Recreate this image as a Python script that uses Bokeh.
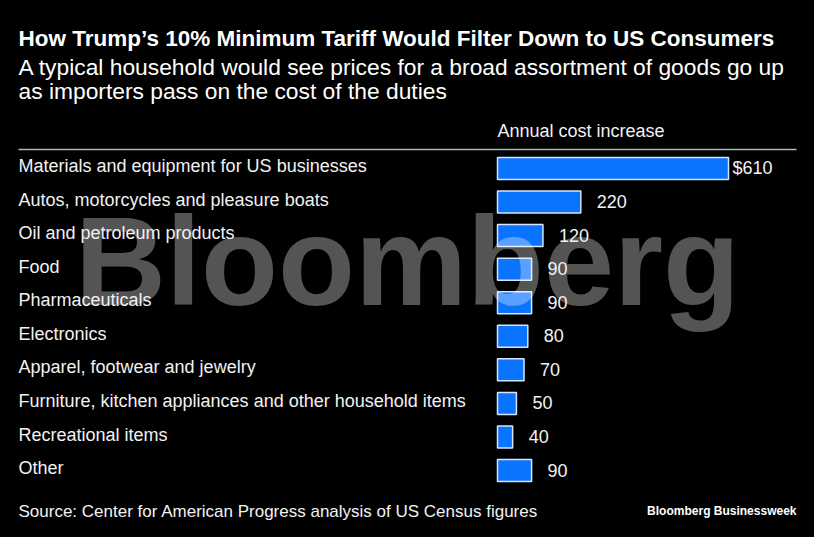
from bokeh.plotting import figure
from bokeh.models import Range1d, ColumnDataSource
from bokeh.core.properties import value
from bokeh.embed import file_html
from bokeh.resources import INLINE

# ---------------- data ----------------
categories = [
    "Materials and equipment for US businesses",
    "Autos, motorcycles and pleasure boats",
    "Oil and petroleum products",
    "Food",
    "Pharmaceuticals",
    "Electronics",
    "Apparel, footwear and jewelry",
    "Furniture, kitchen appliances and other household items",
    "Recreational items",
    "Other",
]
values = [610, 220, 120, 90, 90, 80, 70, 50, 40, 90]
value_labels = ["$610", "220", "120", "90", "90", "80", "70", "50", "40", "90"]

title = "How Trump\u2019s 10% Minimum Tariff Would Filter Down to US Consumers"
subtitle_lines = [
    "A typical household would see prices for a broad assortment of goods go up",
    "as importers pass on the cost of the duties",
]
header = "Annual cost increase"
source_note = "Source: Center for American Progress analysis of US Census figures"
brand = "Bloomberg Businessweek"
watermark = "Bloomberg"

# ---------------- layout ----------------
W, H = 814, 537
X0_PX = 497
PX_PER_UNIT = 231 / 610
ROW0_PX = 168
ROW_STEP_PX = 33.56
BASE_SHIFT = 0.36  # empirical baseline correction (fraction of font size)

def xd(px):
    return (px - X0_PX) / PX_PER_UNIT

def yd(py, size=0.0):
    return (py - BASE_SHIFT * size - ROW0_PX) / ROW_STEP_PX

FONT = value("Liberation Sans")
BLUE = "#0a74ff"

idx = list(range(len(categories)))
src = ColumnDataSource(dict(
    idx=idx,
    cat=categories,
    val=values,
    lab=value_labels,
    cat_y=[i + (4 - BASE_SHIFT * 18) / ROW_STEP_PX for i in idx],
    val_y=[i + (6 - BASE_SHIFT * 18) / ROW_STEP_PX for i in idx],
    off=[4 if l.startswith("$") else 16 for l in value_labels],
))

p = figure(width=W, height=H,
           x_range=Range1d(xd(0), xd(W)), y_range=Range1d(yd(H), yd(0)),
           output_backend="svg", toolbar_location=None,
           x_axis_location=None, y_axis_location=None,
           min_border=0, background_fill_color="black",
           border_fill_color="black", outline_line_color=None)
p.xgrid.visible = False
p.ygrid.visible = False

# bars
p.hbar(y="idx", left=0, right="val", height=22 / ROW_STEP_PX, source=src,
       fill_color=BLUE, line_color="#d6e4ff", line_width=1.5)

# watermark
p.text(x=[xd(407)], y=[yd(306, 126)], text=[watermark], text_font=FONT,
       text_font_style="bold", text_font_size="126px", text_color="white",
       text_alpha=0.33, text_align="center", text_baseline="alphabetic")

# category labels
p.text(x=xd(18), y="cat_y", text="cat", source=src, text_font=FONT,
       text_font_size="18px", text_color="#f2f2f2", text_align="left",
       text_baseline="alphabetic")

# value labels
p.text(x="val", y="val_y", text="lab", x_offset="off", source=src, text_font=FONT,
       text_font_size="18px", text_color="#f2f2f2", text_align="left",
       text_baseline="alphabetic")

# header + divider
p.text(x=[0], y=[yd(137, 18)], text=[header], text_font=FONT, text_font_size="18px",
       text_color="#f2f2f2", text_align="left", text_baseline="alphabetic")
p.segment(x0=[xd(18)], y0=[yd(149)], x1=[xd(796)], y1=[yd(149)],
          line_color="#b5b5b5", line_width=1.5)

# title + subtitle
p.text(x=[xd(18)], y=[yd(46, 22.5)], text=[title], text_font=FONT, text_font_style="bold",
       text_font_size="22.5px", text_color="white", text_align="left",
       text_baseline="alphabetic")
p.text(x=[xd(18), xd(18)], y=[yd(75, 22.8), yd(99, 22.8)], text=subtitle_lines, text_font=FONT,
       text_font_size="22.8px", text_color="white", text_align="left",
       text_baseline="alphabetic")

# footer
p.text(x=[xd(18)], y=[yd(517, 17)], text=[source_note], text_font=FONT,
       text_font_size="17px", text_color="#f2f2f2", text_align="left",
       text_baseline="alphabetic")
p.text(x=[xd(796)], y=[yd(515, 12)], text=[brand], text_font=FONT, text_font_style="bold",
       text_font_size="12px", text_color="white", text_align="right",
       text_baseline="alphabetic")

html = file_html(p, INLINE)
html = html.replace(
    "</head>",
    "<style>html,body{margin:0;padding:0;background:#000000;overflow:hidden;}</style></head>",
    1,
)
open("out.html", "w").write(html)
